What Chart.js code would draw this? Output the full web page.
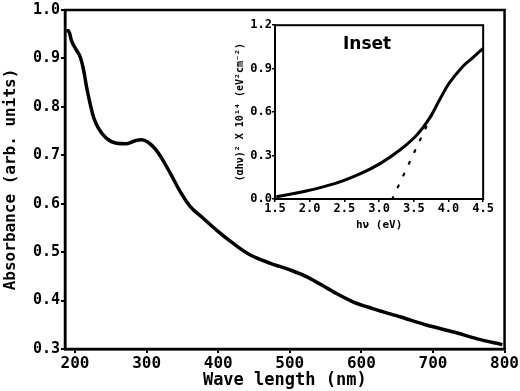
<!DOCTYPE html>
<html>
<head>
<meta charset="utf-8">
<script src="https://cdn.jsdelivr.net/npm/chart.js@4.4.1/dist/chart.umd.min.js"></script>
<style>
  html, body { margin: 0; padding: 0; background: #fff; }
  #wrap { position: relative; width: 520px; height: 391px; }
  #main { position: absolute; left: 0; top: 0; }
  #inset { position: absolute; left: 226px; top: 18px; }
</style>
</head>
<body>
<div id="wrap">
  <canvas id="main" width="520" height="391"></canvas>
  <canvas id="inset" width="268" height="214"></canvas>
</div>
<script>
// main spectrum: wavelength (nm) vs absorbance
const wavelength = [188, 191, 195, 202, 207, 212, 216, 221, 226, 233, 244, 258, 272, 284, 293, 302, 312, 321, 333, 347, 361, 379, 398, 421, 445, 473, 501, 524, 561, 589, 617, 655, 692, 729, 762, 797];
const absorbance = [0.957, 0.957, 0.937, 0.917, 0.904, 0.876, 0.842, 0.807, 0.778, 0.755, 0.735, 0.725, 0.724, 0.730, 0.732, 0.727, 0.713, 0.694, 0.663, 0.625, 0.594, 0.570, 0.545, 0.518, 0.494, 0.477, 0.463, 0.449, 0.418, 0.397, 0.383, 0.366, 0.349, 0.335, 0.321, 0.309];
const xTicks = [200, 300, 400, 500, 600, 700, 800];
const yTicks = [0.3, 0.4, 0.5, 0.6, 0.7, 0.8, 0.9, 1.0];

// inset: Tauc plot
const photonEnergy = [1.52, 1.90, 2.37, 2.74, 3.02, 3.30, 3.54, 3.73, 3.87, 4.01, 4.20, 4.36, 4.50];
const taucValue = [0.016, 0.05, 0.108, 0.177, 0.246, 0.338, 0.44, 0.56, 0.683, 0.80, 0.912, 0.98, 1.04];
const fitEnergy = [3.19, 3.77];
const fitValue = [0.0, 0.59];
const insetXTicks = [1.5, 2.0, 2.5, 3.0, 3.5, 4.0, 4.5];
const insetYTicks = [0.0, 0.3, 0.6, 0.9, 1.2];

const mono = 'DejaVu Sans Mono';

const boxPlugin = {
    id: 'box',
    afterDraw(chart, args, opts) {
        const a = chart.chartArea;
        const ctx = chart.ctx;
        ctx.save();
        ctx.strokeStyle = '#000';
        ctx.lineWidth = opts.width || 2;
        ctx.strokeRect(a.left, a.top, a.right - a.left, a.bottom - a.top);
        ctx.restore();
    }
};

function toPoints(xs, ys) {
    return xs.map((x, i) => ({ x: x, y: ys[i] }));
}

new Chart(document.getElementById('main'), {
    type: 'line',
    data: {
        datasets: [{
            data: toPoints(wavelength, absorbance),
            borderColor: '#000',
            borderWidth: 3.5,
            pointRadius: 0,
            cubicInterpolationMode: 'monotone',
            fill: false
        }]
    },
    options: {
        responsive: false,
        animation: false,
        layout: { padding: { left: 0, top: 10, right: 15, bottom: 0 } },
        plugins: { legend: { display: false }, tooltip: { enabled: false }, box: { width: 2.5 } },
        scales: {
            x: {
                type: 'linear',
                min: 186,
                max: 800,
                afterBuildTicks: (s) => { s.ticks = xTicks.map(v => ({ value: v })); },
                afterFit: (s) => { s.height = 42; },
                grid: { display: true, drawOnChartArea: false, drawTicks: true, tickLength: 4, color: '#000', lineWidth: 2 },
                border: { color: '#000', width: 2.5 },
                ticks: { color: '#000', font: { family: mono, size: 16, weight: 'bold' }, padding: 1, maxRotation: 0 },
                title: { display: true, text: 'Wave length (nm)', color: '#000', font: { family: mono, size: 17, weight: 'bold' }, padding: { top: 0, bottom: 0 } }
            },
            y: {
                min: 0.3,
                max: 1.0,
                afterBuildTicks: (s) => { s.ticks = yTicks.map(v => ({ value: v })); },
                afterFit: (s) => { s.width = 65; },
                grid: { display: true, drawOnChartArea: false, drawTicks: true, tickLength: 4, color: '#000', lineWidth: 2 },
                border: { color: '#000', width: 2.5 },
                ticks: { color: '#000', font: { family: mono, size: 15, weight: 'bold' }, padding: 1, callback: v => v.toFixed(1) },
                title: { display: true, text: 'Absorbance (arb. units)', color: '#000', font: { family: mono, size: 16, weight: 'bold' }, padding: { top: 1, bottom: 2 } }
            }
        }
    },
    plugins: [boxPlugin]
});

const insetTitle = {
    id: 'insetTitle',
    afterDraw(chart) {
        const a = chart.chartArea;
        const ctx = chart.ctx;
        ctx.save();
        ctx.fillStyle = '#000';
        ctx.font = 'bold 17px "DejaVu Sans"';
        ctx.textAlign = 'center';
        ctx.textBaseline = 'middle';
        ctx.fillText('Inset', (a.left + a.right) / 2 - 12, a.top + 19);
        ctx.restore();
    }
};

new Chart(document.getElementById('inset'), {
    type: 'line',
    data: {
        datasets: [{
            data: toPoints(photonEnergy, taucValue),
            borderColor: '#000',
            borderWidth: 3,
            pointRadius: 0,
            tension: 0.4,
            fill: false
        }, {
            data: toPoints(fitEnergy, fitValue),
            borderColor: '#000',
            borderWidth: 2.2,
            borderDash: [2, 11],
            borderCapStyle: 'round',
            pointRadius: 0,
            fill: false
        }]
    },
    options: {
        responsive: false,
        animation: false,
        layout: { padding: { left: 0, top: 7, right: 6, bottom: 0 } },
        plugins: { legend: { display: false }, tooltip: { enabled: false }, box: { width: 2 } },
        scales: {
            x: {
                type: 'linear',
                min: 1.5,
                max: 4.5,
                afterBuildTicks: (s) => { s.ticks = insetXTicks.map(v => ({ value: v })); },
                afterFit: (s) => { s.height = 33; },
                grid: { display: true, drawOnChartArea: false, drawTicks: true, tickLength: 3, color: '#000', lineWidth: 1.5 },
                border: { color: '#000', width: 2 },
                ticks: { color: '#000', font: { family: mono, size: 12, weight: 'bold' }, padding: 0, maxRotation: 0, callback: v => v.toFixed(1) },
                title: { display: true, text: 'h\u03bd (eV)', color: '#000', font: { family: mono, size: 11, weight: 'bold' }, padding: { top: 0, bottom: 0 } }
            },
            y: {
                min: 0,
                max: 1.2,
                afterBuildTicks: (s) => { s.ticks = insetYTicks.map(v => ({ value: v })); },
                afterFit: (s) => { s.width = 49; },
                grid: { display: true, drawOnChartArea: false, drawTicks: true, tickLength: 3, color: '#000', lineWidth: 1.5 },
                border: { color: '#000', width: 2 },
                ticks: { color: '#000', font: { family: mono, size: 12, weight: 'bold' }, padding: 0, callback: v => v.toFixed(1) },
                title: { display: true, text: '(\u03b1h\u03bd)\u00b2 X 10\u00b9\u2074 (eV\u00b2cm\u207b\u00b2)', color: '#000', font: { family: mono, size: 10, weight: 'bold' }, padding: { top: 8, bottom: 0 } }
            }
        }
    },
    plugins: [boxPlugin, insetTitle]
});
</script>
</body>
</html>
